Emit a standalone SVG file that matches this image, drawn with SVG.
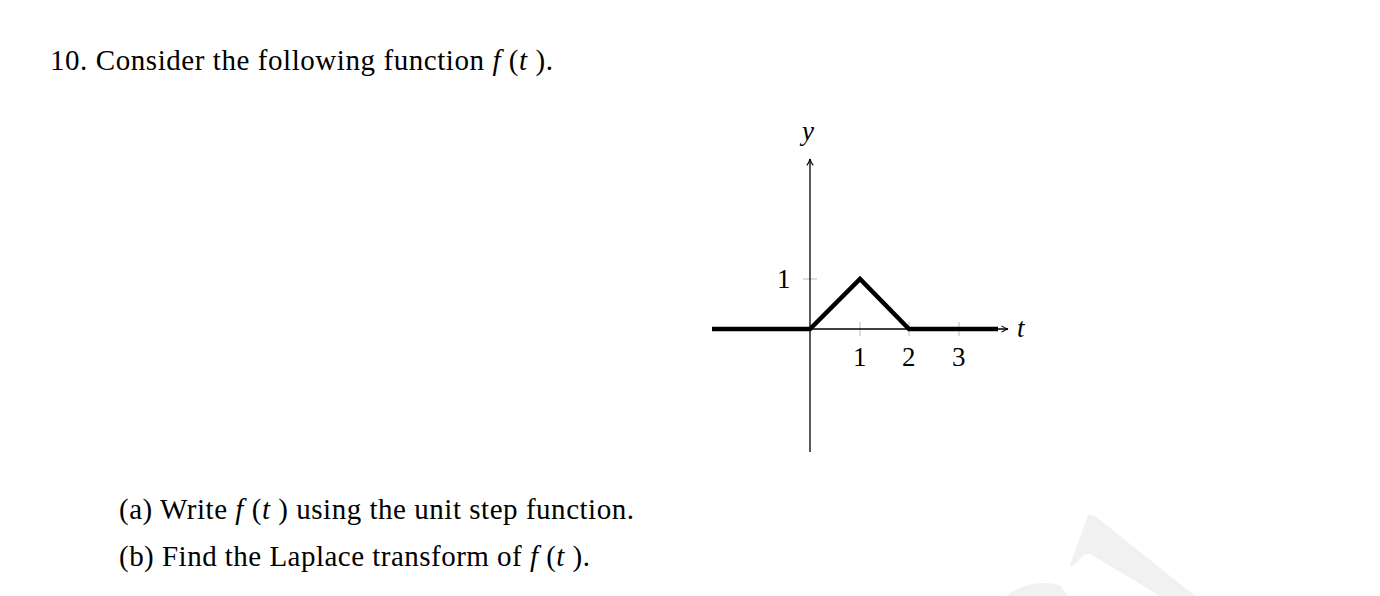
<svg xmlns="http://www.w3.org/2000/svg" width="1380" height="596" viewBox="0 0 1380 596">
<defs>
<style>
.t{font-family:"Liberation Serif","Times New Roman",serif;font-size:29px;fill:#000}
.m{font-family:"Liberation Serif",serif;font-style:italic}
.n{font-family:"Liberation Serif",serif;font-size:27px;fill:#000}
.ax{stroke:#000;stroke-width:1.3;fill:none}
.tk{stroke:#bbb;stroke-width:1}
</style>
<marker id="ar" viewBox="0 0 10 10" refX="9" refY="5" markerWidth="8" markerHeight="8" orient="auto" markerUnits="userSpaceOnUse"><path d="M1,1 Q5,4 9,5 Q5,6 1,9" fill="none" stroke="#000" stroke-width="1.3"/></marker>
</defs>
<g id="watermark" fill="#f1f1f1">
<path d="M1088,515 L1095,516 L1195,596 L1160,596 L1092,555 Q1083,551 1078,562 L1069,568 Z"/>
<path d="M1006,596 Q1030,578 1060,585 L1068,596 Z"/>
</g>
<text class="t" x="50" y="70" textLength="503" lengthAdjust="spacing">10. Consider the following function <tspan class="m">f</tspan> (<tspan class="m">t</tspan> ).</text>
<g id="axes">
<line class="tk" x1="860" y1="322" x2="860" y2="336"/>
<line class="tk" x1="909" y1="322" x2="909" y2="336"/>
<line class="tk" x1="959" y1="322" x2="959" y2="336"/>
<line class="tk" x1="803" y1="279" x2="817" y2="279"/>
<line class="ax" x1="810" y1="452" x2="810" y2="159" marker-end="url(#ar)"/>
<line class="ax" x1="810" y1="329" x2="1008" y2="329" marker-end="url(#ar)"/>
</g>
<g id="curve"><polyline points="712,329 810,329 860,279 909,329 998,329" fill="none" stroke="#000" stroke-width="4.5"/></g>
<g id="labels">
<text class="n m" x="802" y="140">y</text>
<text class="n m" x="1017" y="337">t</text>
<text class="n" x="777" y="288">1</text>
<text class="n" x="853" y="366">1</text>
<text class="n" x="902" y="366">2</text>
<text class="n" x="952" y="366">3</text>
</g>
<text class="t" x="119" y="519" textLength="515" lengthAdjust="spacing">(a)  Write <tspan class="m">f</tspan> (<tspan class="m">t</tspan> ) using the unit step function.</text>
<text class="t" x="119" y="566" textLength="471" lengthAdjust="spacing">(b)  Find the Laplace transform of <tspan class="m">f</tspan> (<tspan class="m">t</tspan> ).</text>
</svg>
